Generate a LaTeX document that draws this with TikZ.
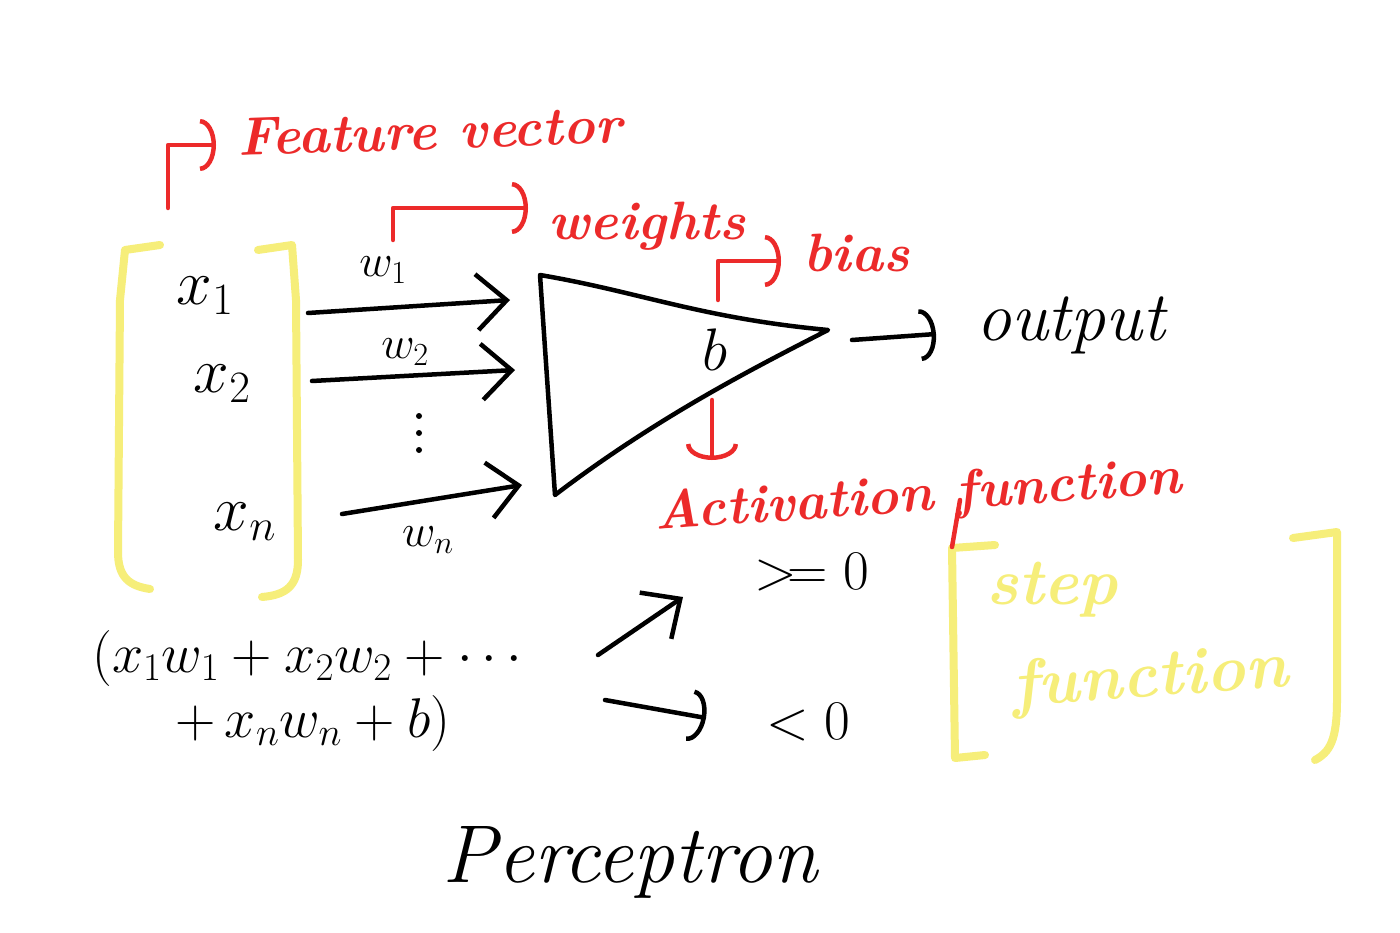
\RequirePackage{fix-cm}
\documentclass[tikz,border=0pt]{standalone}
\usetikzlibrary{arrows.meta}

\definecolor{penred}{RGB}{236,42,42}
\definecolor{hilite}{RGB}{246,238,122}

\tikzset{
  ink/.style={draw=black, line width=4.5pt, line cap=round, line join=round},
  redink/.style={draw=penred, line width=4.5pt, line cap=round, line join=round},
  marker/.style={draw=hilite, line width=8pt, line cap=round, line join=round},
  chev/.style={-{Straight Barb[length=30pt,width=56pt,line width=4.5pt]}},
  hook/.style={-{Arc Barb[length=16pt,width=52pt,line width=4.5pt]}},
  lbl/.style={inner sep=0pt, anchor=base west},
  redlbl/.style={lbl, text=penred, font=\fontsize{54}{60}\selectfont\bfseries\itshape},
  var/.style={inner sep=0pt, font=\fontsize{64}{70}\selectfont},
  wlbl/.style={inner sep=0pt, font=\fontsize{46}{50}\selectfont},
  eqn/.style={lbl, font=\fontsize{56}{62}\selectfont},
  steplbl/.style={inner sep=0pt, text=hilite, font=\fontsize{66}{72}\selectfont\bfseries\itshape},
}

\begin{document}
\begin{tikzpicture}[x=1pt,y=-1pt]
\useasboundingbox (0,0) rectangle (1400,933);
\fill[white] (0,0) rectangle (1400,933);

% ---- feature vector bracket ----
\draw[marker] (160,245) -- (125,250) -- (120,300) -- (118,552)
  .. controls (118,578) and (130,586) .. (150,589);
\draw[marker] (258,250) -- (292,245) -- (296,300) -- (298,560)
  .. controls (298,586) and (286,595) .. (262,597);

\node[var] (x1) at (205,296) {$x_1$};
\node[var] (x2) at (222,384) {$x_2$};
\node[var] (xn) at (245,522) {$x_n$};

% ---- neuron body ----
\coordinate (tA) at (540,275);
\coordinate (tB) at (828,330);
\coordinate (tC) at (555,495);
\draw[ink] (tA) .. controls (640,292) and (700,318) .. (tB)
  .. controls (760,365) and (660,415) .. (tC) -- cycle;
\node[var, font=\fontsize{60}{66}\selectfont] (bb) at (715,350) {$b$};

% ---- weighted inputs ----
\coordinate (src1) at (308,313);
\coordinate (src2) at (312,381);
\coordinate (srcn) at (342,514);
\coordinate (in1) at (510,300);
\coordinate (in2) at (515,370);
\coordinate (inn) at (522,485);
\draw[ink, chev] (src1) -- (in1);
\draw[ink, chev] (src2) -- (in2);
\draw[ink, chev] (srcn) -- (inn);
\node[wlbl] (w1) at (383,270) {$w_1$};
\node[wlbl] (w2) at (405,352) {$w_2$};
\node[wlbl] (wn) at (428,540) {$w_n$};
% vertical ellipsis between the inputs
\foreach \yy in {416,433,450} \fill (419,\yy) circle (3pt);

% ---- output ----
\node[lbl, font=\fontsize{70}{76}\selectfont\itshape] (out) at (976,340) {output};
\coordinate (oStart) at (852,340);
\coordinate (oTip) at (936,334);
\draw[ink, hook] (oStart) -- (oTip);

% ---- red annotations ----
\node[redlbl, rotate=2] (fv) at (238,156) {Feature vector};
\coordinate (fvTail) at (168,208);
\coordinate (fvTip) at (216,145);
\draw[redink, hook] (fvTail) |- (fvTip);

\node[redlbl] (wt) at (548,240) {weights};
\coordinate (wtTail) at (393,240);
\coordinate (wtTip) at (528,208);
\draw[redink, hook] (wtTail) |- (wtTip);

\node[redlbl] (bs) at (803,272) {bias};
\coordinate (bsTail) at (718,300);
\coordinate (bsTip) at (781,261);
\draw[redink, hook] (bsTail) |- (bsTip);

\coordinate (actTail) at (712,400);
\coordinate (actTip) at (712,460);
\draw[redink, hook] (actTail) -- (actTip);
\node[redlbl, rotate=4] (act) at (655,530) {Activation function};

% ---- step function box ----
\draw[marker] (995,545) -- (952,548) -- (955,758) -- (985,755);
\draw[marker] (1293,538) -- (1337,532) -- (1337,700)
  .. controls (1337,740) and (1330,752) .. (1315,760);
\coordinate (stepCorner) at (952,547);
\coordinate (fStem) at (960,500);
\draw[redink] (fStem) -- (stepCorner);
\node[steplbl] (stp) at (1052,590) {step};
\node[steplbl, rotate=4] (fnc) at (1150,680) {function};

% ---- weighted sum and thresholds ----
\node[eqn] (sumA) at (92,672) {$(x_1w_1+x_2w_2+\cdots$};
\node[eqn] (sumB) at (175,737) {$+\,x_nw_n+b)$};
\node[inner sep=0pt, font=\fontsize{56}{62}\selectfont] (ge) at (812,572) {$>\!=0$};
\node[inner sep=0pt, font=\fontsize{56}{62}\selectfont] (lt) at (808,722) {$<0$};
\coordinate (upSrc) at (598,655);
\coordinate (upTip) at (683,597);
\coordinate (rtSrc) at (605,700);
\coordinate (rtTip) at (706,718);
\draw[ink, chev] (upSrc) -- (upTip);
\draw[ink, hook] (rtSrc) .. controls (650,708) .. (rtTip);

% ---- title ----
\node[inner sep=0pt, font=\fontsize{82}{90}\selectfont\itshape] (title) at (630,862) {Perceptron};
\end{tikzpicture}
\end{document}
